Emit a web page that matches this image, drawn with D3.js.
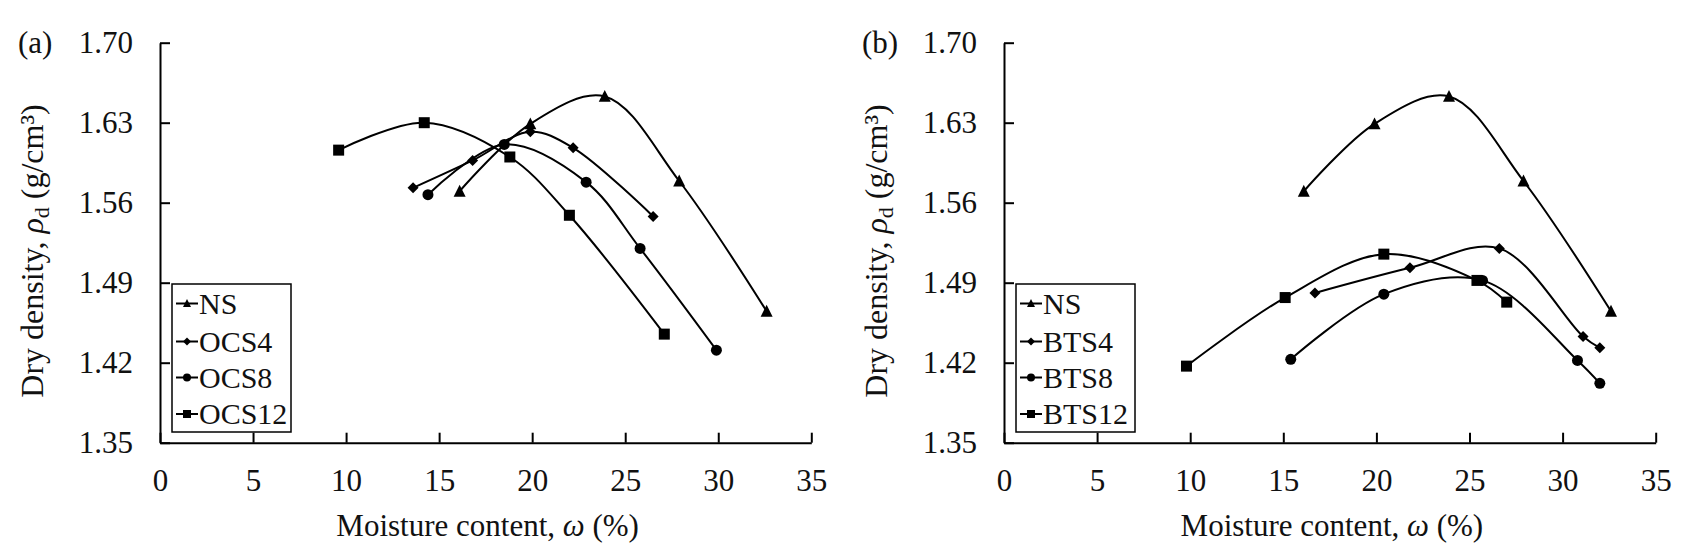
<!DOCTYPE html>
<html>
<head>
<meta charset="utf-8">
<script src="https://cdn.jsdelivr.net/npm/d3@7"></script>
<style>
  html, body { margin: 0; padding: 0; background: #fff; }
  svg { display: block; font-family: "Liberation Serif", "Times New Roman", serif; }
</style>
</head>
<body>
<svg id="chart" width="1688" height="550"></svg>
<script>
// ---- data ----
const xTicks = [0, 5, 10, 15, 20, 25, 30, 35];
const yTicks = [1.35, 1.42, 1.49, 1.56, 1.63, 1.70];

const nsX   = [16.1, 19.9, 23.9, 27.9, 32.6];
const nsY   = [1.570, 1.629, 1.653, 1.579, 1.465];

const ocs4X  = [13.6, 16.8, 19.9, 22.2, 26.5];
const ocs4Y  = [1.573, 1.597, 1.622, 1.608, 1.548];
const ocs8X  = [14.4, 18.5, 22.9, 25.8, 29.9];
const ocs8Y  = [1.567, 1.611, 1.578, 1.520, 1.431];
const ocs12X = [9.6, 14.2, 18.8, 22.0, 27.1];
const ocs12Y = [1.606, 1.630, 1.600, 1.549, 1.445];

const bts4X  = [16.7, 21.8, 26.6, 31.1, 32.0];
const bts4Y  = [1.481, 1.503, 1.520, 1.443, 1.433];
const bts8X  = [15.4, 20.4, 25.7, 30.8, 32.0];
const bts8Y  = [1.423, 1.480, 1.492, 1.422, 1.402];
const bts12X = [9.8, 15.1, 20.4, 25.4, 27.0];
const bts12Y = [1.417, 1.477, 1.515, 1.492, 1.473];

const panelA = { label: "(a)", names: ["NS", "OCS4", "OCS8", "OCS12"],
  xs: [nsX, ocs4X, ocs8X, ocs12X], ys: [nsY, ocs4Y, ocs8Y, ocs12Y] };
const panelB = { label: "(b)", names: ["NS", "BTS4", "BTS8", "BTS12"],
  xs: [nsX, bts4X, bts8X, bts12X], ys: [nsY, bts4Y, bts8Y, bts12Y] };
const markerTypes = ["triangle", "diamond", "circle", "square"];

// ---- drawing ----
const svg = d3.select("#chart");
const FS = 31;
const plotTop = 42.7, plotBottom = 442.7;

function marker(g, type, cx, cy, s) {
  const h = s / 2;
  if (type === "circle") {
    g.append("circle").attr("cx", cx).attr("cy", cy).attr("r", h).attr("fill", "#000");
  } else if (type === "square") {
    g.append("rect").attr("x", cx - h).attr("y", cy - h).attr("width", s).attr("height", s).attr("fill", "#000");
  } else if (type === "diamond") {
    g.append("path").attr("d", `M${cx},${cy - h}L${cx + h},${cy}L${cx},${cy + h}L${cx - h},${cy}Z`).attr("fill", "#000");
  } else {
    const th = s * 0.9;
    g.append("path").attr("d", `M${cx},${cy - th / 2 - 1}L${cx + h},${cy + th / 2}L${cx - h},${cy + th / 2}Z`).attr("fill", "#000");
  }
}

function drawPanel(p, x0, x1) {
  const x = d3.scaleLinear().domain([0, 35]).range([x0, x1]);
  const y = d3.scaleLinear().domain([1.35, 1.70]).range([plotBottom, plotTop]);
  const g = svg.append("g");

  const xAxis = d3.axisBottom(x).tickValues(xTicks).tickFormat(d3.format("d"))
    .tickSizeInner(-10).tickSizeOuter(0).tickPadding(26);
  const yAxis = d3.axisLeft(y).tickValues(yTicks).tickFormat(d3.format(".2f"))
    .tickSizeInner(-10).tickSizeOuter(0).tickPadding(27);

  const gx = g.append("g").attr("transform", `translate(0,${plotBottom})`).call(xAxis);
  const gy = g.append("g").attr("transform", `translate(${x0},0)`).call(yAxis);
  [gx, gy].forEach(a => {
    a.selectAll("path.domain").attr("stroke", "#000").attr("stroke-width", 2);
    a.selectAll(".tick line").attr("stroke", "#000").attr("stroke-width", 2);
    a.selectAll(".tick text").attr("fill", "#111").style("font-size", FS + "px")
      .style("font-family", "'Liberation Serif', 'Times New Roman', serif");
  });

  // series
  const line = d3.line().x(d => x(d[0])).y(d => y(d[1])).curve(d3.curveCatmullRom.alpha(0.5));
  p.names.forEach((n, i) => {
    const pts = p.xs[i].map((v, j) => [v, p.ys[i][j]]);
    g.append("path").attr("d", line(pts)).attr("fill", "none").attr("stroke", "#000").attr("stroke-width", 2);
    const mg = g.append("g");
    const size = markerTypes[i] === "triangle" ? 12 : 11;
    pts.forEach(d => marker(mg, markerTypes[i], x(d[0]), y(d[1]), size));
  });

  // legend
  const lx = x0 + 12, ly = 284;
  const lg = g.append("g");
  lg.append("rect").attr("x", lx).attr("y", ly).attr("width", 119).attr("height", 148)
    .attr("fill", "#fff").attr("stroke", "#000").attr("stroke-width", 1.5);
  const rowY = [303.5, 341.5, 377.5, 414];
  p.names.forEach((n, i) => {
    const cy = rowY[i];
    lg.append("line").attr("x1", lx + 4).attr("x2", lx + 26).attr("y1", cy).attr("y2", cy)
      .attr("stroke", "#000").attr("stroke-width", 2);
    marker(lg, markerTypes[i], lx + 15, cy, 8);
    lg.append("text").attr("x", lx + 27).attr("y", cy + 10).attr("fill", "#111")
      .style("font-size", "30px").text(n);
  });

  // panel label
  g.append("text").attr("x", x0 - 142).attr("y", 53).attr("fill", "#111")
    .style("font-size", FS + "px").text(p.label);

  // y title
  const yt = g.append("text").attr("transform", `translate(${x0 - 117},251) rotate(-90)`)
    .attr("text-anchor", "middle").attr("fill", "#111").style("font-size", "32px");
  yt.append("tspan").text("Dry density, ");
  yt.append("tspan").style("font-style", "italic").text("ρ");
  yt.append("tspan").attr("dy", 6).style("font-size", "22px").text("d");
  yt.append("tspan").attr("dy", -6).text(" (g/cm³)");

  // x title
  const xt = g.append("text").attr("x", (x0 + x1) / 2 + 2).attr("y", 536)
    .attr("text-anchor", "middle").attr("fill", "#111").style("font-size", FS + "px");
  xt.append("tspan").text("Moisture content, ");
  xt.append("tspan").style("font-style", "italic").text("ω");
  xt.append("tspan").text(" (%)");
}

drawPanel(panelA, 160, 811.3);
drawPanel(panelB, 1004, 1655.7);
</script>
</body>
</html>
